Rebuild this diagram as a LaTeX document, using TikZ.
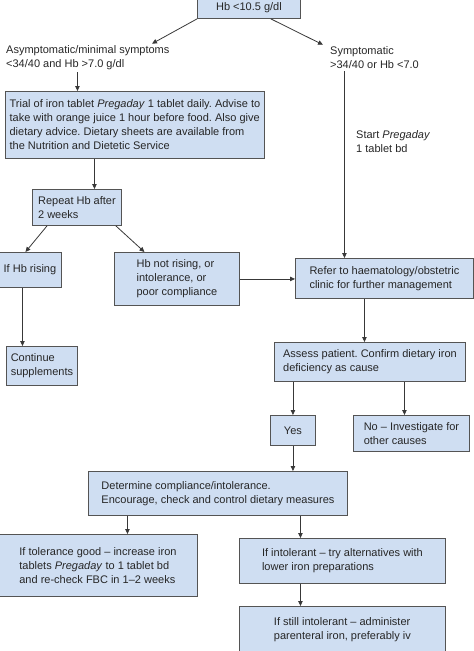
\documentclass[tikz,border=0pt]{standalone}
\usepackage{fontspec}
\setmainfont{Liberation Sans}
\usepackage{tikz}
\usetikzlibrary{arrows.meta}
\usepackage{xcolor}
\definecolor{boxblue}{rgb}{0.81, 0.87, 0.95}
\definecolor{edgegray}{rgb}{0.33, 0.33, 0.33}
\definecolor{arrowgray}{rgb}{0.22, 0.22, 0.22}
\frenchspacing

\begin{document}
\begin{tikzpicture}[x=1pt,y=-1pt,
  every node/.style={font=\fontsize{11}{14}\selectfont, text=black!85},
  box/.style={draw=edgegray, fill=boxblue, line width=0.9pt, align=left, anchor=north west, inner sep=0pt},
  lbl/.style={align=left, anchor=west, inner xsep=0pt, inner ysep=2pt},
  arr/.style={draw=arrowgray, line width=0.8pt, -{Triangle[length=5pt,width=4.5pt]}}]
\useasboundingbox (0,0) rectangle (474,651);

% start
  \node[box, minimum width=103, minimum height=22, align=center] (top) at (197,-4) {Hb <10.5 g/dl};
  \node[lbl] (asym) at (6,58) {Asymptomatic/minimal symptoms\\<34/40 and Hb >7.0 g/dl};
  \node[lbl] (sympt) at (330,58) {Symptomatic\\>34/40 or Hb <7.0};
  \draw[arr] (top.south west) -- ([xshift=146pt]asym.north west);
  \draw[arr] ([xshift=-30pt]top.south east) -- ([xshift=-7pt]sympt.north west);

% left branch
  \node[box, minimum width=259, minimum height=67] (trial) at (5,91)
    {Trial of iron tablet \textit{Pregaday} 1 tablet daily. Advise to\\take with orange juice 1 hour before food. Also give\\dietary advice. Dietary sheets are available from\\the Nutrition and Dietetic Service};
  \node[box, minimum width=89, minimum height=36] (rep) at (32,189) {Repeat Hb after\\2 weeks};
  \node[box, minimum width=63, minimum height=35] (rising) at (-2,252) {If Hb rising};
  \node[box, minimum width=125, minimum height=53] (notrising) at (114,252) {Hb not rising, or\\intolerance, or\\poor compliance};
  \node[box, minimum width=71, minimum height=39] (cont) at (6,346) {Continue\\supplements};
  \coordinate (c3) at ([xshift=-57.5pt]trial.north);
  \draw[arr] (c3 |- asym.south) -- (c3);
  \coordinate (c4) at ([xshift=17.5pt]rep.north);
  \draw[arr] (c4 |- trial.south) -- (c4);
  \draw[arr] ([xshift=15pt]rep.south west) -- ([xshift=-4.5pt]rising.north);
  \draw[arr] ([xshift=-6pt]rep.south east) -- ([xshift=-32.5pt]notrising.north);
  \coordinate (c7) at ([xshift=-19.5pt]cont.north);
  \draw[arr] (c7 |- rising.south) -- (c7);

% right branch
  \node[lbl] (startp) at (356,142) {Start \textit{Pregaday}\\1 tablet bd};
  \node[box, minimum width=178, minimum height=40] (refer) at (295,258) {Refer to haematology/obstetric\\clinic for further management};
  \node[box, minimum width=191, minimum height=39] (assess) at (274,342) {Assess patient. Confirm dietary iron\\deficiency as cause};
  \node[box, minimum width=45, minimum height=30, align=center] (yes) at (270,415) {Yes};
  \node[box, minimum width=116, minimum height=36] (no) at (353,415) {No -- Investigate for\\other causes};
  \coordinate (c9) at ([xshift=-40pt]refer.north);
  \draw[arr] (c9 |- sympt.south) -- (c9);
  \draw[arr] (notrising.east) -- (notrising.east -| refer.west);
  \coordinate (c10) at ([xshift=-5.5pt]assess.north);
  \draw[arr] (c10 |- refer.south) -- (c10);
  \draw[arr] (yes.north |- assess.south) -- (yes.north);
  \coordinate (c12) at ([xshift=-7pt]no.north);
  \draw[arr] (c12 |- assess.south) -- (c12);

% compliance
  \node[box, minimum width=259, minimum height=44] (determ) at (88,471) {Determine compliance/intolerance.\\Encourage, check and control dietary measures};
  \node[box, minimum width=199, minimum height=62] (tolgood) at (-2,534) {If tolerance good -- increase iron\\tablets \textit{Pregaday} to 1 tablet bd\\and re-check FBC in 1--2 weeks};
  \node[box, minimum width=206, minimum height=45] (intol) at (239,538) {If intolerant -- try alternatives with\\lower iron preparations};
  \node[box, minimum width=206, minimum height=46] (still) at (239,606) {If still intolerant -- administer\\parenteral iron, preferably iv};
  \draw[arr] (yes.south) -- (yes.south |- determ.north);
  \coordinate (c14) at ([xshift=29.5pt]tolgood.north);
  \draw[arr] (c14 |- determ.south) -- (c14);
  \coordinate (c15) at ([xshift=-42pt]intol.north);
  \draw[arr] (c15 |- determ.south) -- (c15);
  \coordinate (c16) at ([xshift=-42pt]still.north);
  \draw[arr] (c16 |- intol.south) -- (c16);
\end{tikzpicture}
\end{document}
